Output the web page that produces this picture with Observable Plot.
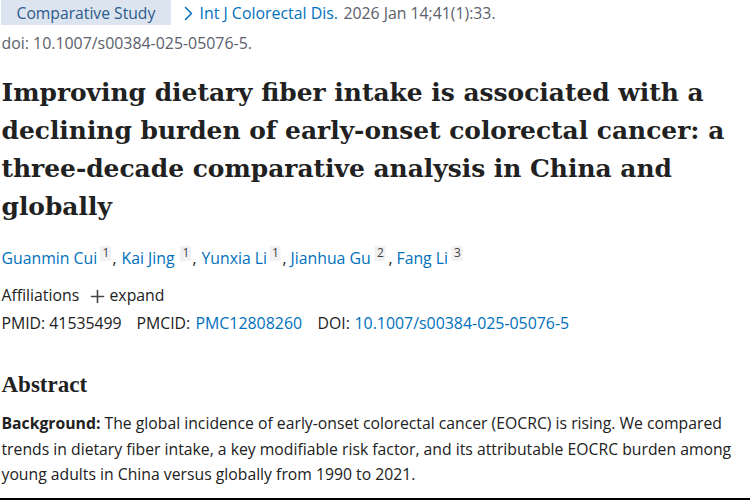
<!DOCTYPE html>
<html><head><meta charset="utf-8">
<script src="https://cdn.jsdelivr.net/npm/d3@7"></script>
<script src="https://cdn.jsdelivr.net/npm/@observablehq/plot@0.6"></script>
<style>html,body{margin:0;padding:0;background:#fff}svg{display:block}</style>
</head><body><div id="c"></div>
<script>
const ink="#212121", blue="#0071bc", grey="#5b616b";
const bodyFont="'Open Sans'", headFont="'DejaVu Serif'", subFont="'Liberation Serif'";
const bodyText=[
 {t:"Comparative Study",x:16,y:13,s:15.7,c:"#2c5a8c"},
 {t:"Int J Colorectal Dis.",x:199,y:13,s:15.9,c:blue},
 {t:"2026 Jan 14;41(1):33.",x:343,y:13,s:15.8,c:grey},
 {t:"doi: 10.1007/s00384-025-05076-5.",x:1,y:43,s:15.9,c:grey},
 {t:"Guanmin Cui",x:1,y:258,s:15.8,c:blue},
 {t:",",x:112,y:258,s:15.8,c:ink},
 {t:"Kai Jing",x:121,y:258,s:15.8,c:blue},
 {t:",",x:192,y:258,s:15.8,c:ink},
 {t:"Yunxia Li",x:201,y:258,s:15.8,c:blue},
 {t:",",x:282,y:258,s:15.8,c:ink},
 {t:"Jianhua Gu",x:290,y:258,s:15.8,c:blue},
 {t:",",x:388,y:258,s:15.8,c:ink},
 {t:"Fang Li",x:396,y:258,s:15.8,c:blue},
 {t:"Affiliations",x:1,y:295,s:15.8,c:ink},
 {t:"expand",x:109,y:295,s:15.8,c:ink},
 {t:"PMID: 41535499",x:1,y:323,s:15.8,c:ink},
 {t:"PMCID:",x:136,y:323,s:15.8,c:ink},
 {t:"PMC12808260",x:195,y:323,s:15.9,c:blue},
 {t:"DOI:",x:317,y:323,s:15.8,c:ink},
 {t:"10.1007/s00384-025-05076-5",x:354,y:323,s:15.9,c:blue},
 {t:"The global incidence of early-onset colorectal cancer (EOCRC) is rising. We compared",x:104,y:423,s:15.75,c:ink},
 {t:"trends in dietary fiber intake, a key modifiable risk factor, and its attributable EOCRC burden among",x:1,y:449,s:15.75,c:ink},
 {t:"young adults in China versus globally from 1990 to 2021.",x:1,y:474,s:15.75,c:ink}
];
const boldText=[{t:"Background:",x:1,y:423,s:15.75,c:ink}];
const headText=[
 {t:"Improving dietary fiber intake is associated with a",x:1,y:92.5,s:24.9},
 {t:"declining burden of early-onset colorectal cancer: a",x:1,y:130.5,s:24.9},
 {t:"three-decade comparative analysis in China and",x:1,y:168.5,s:24.9},
 {t:"globally",x:1,y:206.5,s:24.9}
];
const subHead=[{t:"Abstract",x:1,y:384,s:23}];
const supers=[{t:"1",x:105.5},{t:"1",x:185.5},{t:"1",x:275},{t:"2",x:380},{t:"3",x:457}];
const boxes=[{x1:1,x2:171,y1:0,y2:25,c:"#dce4ef"},...supers.map(d=>({x1:d.x-5.5,x2:d.x+5.5,y1:246,y2:261,c:"#f1f1f1"})),{x1:0,x2:750,y1:498,y2:500,c:"#000"}];
const chevron=[{x:185,y:7},{x:191,y:13},{x:185,y:19}];
const plusH=[{x:91,y:296},{x:103,y:296}], plusV=[{x:97,y:290},{x:97,y:302}];

const txt=(data,font,weight)=>Plot.text(data,{text:"t",x:"x",y:"y",fontSize:"s",fill:"c",textAnchor:"start",lineAnchor:"middle",fontFamily:font,fontWeight:weight});
const plot=Plot.plot({width:750,height:500,margin:0,
 x:{domain:[0,750],range:[0,750],axis:null},
 y:{domain:[0,500],range:[0,500],axis:null},
 style:{background:"#fff",overflow:"hidden"},
 marks:[
  Plot.rect(boxes,{x1:"x1",x2:"x2",y1:"y1",y2:"y2",fill:"c"}),
  Plot.line(chevron,{x:"x",y:"y",stroke:blue,strokeWidth:1.5}),
  Plot.line(plusH,{x:"x",y:"y",stroke:"#444",strokeWidth:1.6}),
  Plot.line(plusV,{x:"x",y:"y",stroke:"#444",strokeWidth:1.6}),
  txt(bodyText,bodyFont,400),
  txt(boldText,bodyFont,700),
  Plot.text(headText,{text:"t",x:"x",y:"y",fontSize:"s",fill:ink,textAnchor:"start",lineAnchor:"middle",fontFamily:headFont,fontWeight:700}),
  Plot.text(subHead,{text:"t",x:"x",y:"y",fontSize:"s",fill:ink,textAnchor:"start",lineAnchor:"middle",fontFamily:subFont,fontWeight:700}),
  Plot.text(supers,{text:"t",x:"x",y:()=>253,fontSize:12,fill:"#444",fontFamily:bodyFont})
 ]});
document.getElementById("c").append(plot);
</script></body></html>
